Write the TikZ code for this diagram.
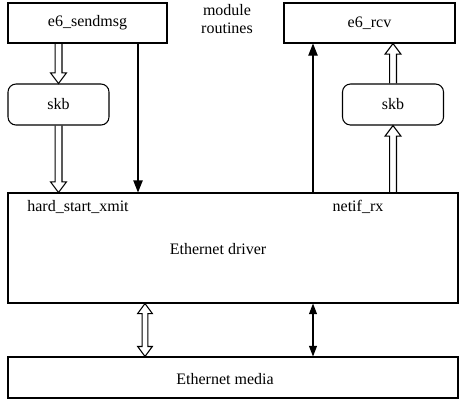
\documentclass[tikz,border=0pt]{standalone}
\usepackage{fontspec}
\setmainfont{Liberation Serif}
\usetikzlibrary{arrows.meta,calc}

\tikzset{
  box/.style={draw, line width=0.8pt, inner sep=0pt, minimum width=#1},
  skbbox/.style={box=75.75pt, minimum height=30.75pt, rounded corners=6pt},
  tipline/.style={line width=0.8pt, -{Triangle[width=7pt,length=9pt]}},
  tipboth/.style={line width=0.8pt, {Triangle[width=6pt,length=8pt]}-{Triangle[width=6pt,length=8pt]}},
  hollow/.style={line width=0.8pt, to path={
    let \p1=(\tikztostart), \p2=(\tikztotarget), \n1={sign(\y2-\y1)} in
    ({\x1-2.6pt},\y1) -- ({\x1-2.6pt},{\y2-(\n1)*8pt}) -- ({\x1-6pt},{\y2-(\n1)*8pt}) -- (\x2,\y2)
    -- ({\x1+6pt},{\y2-(\n1)*8pt}) -- ({\x1+2.6pt},{\y2-(\n1)*8pt}) -- ({\x1+2.6pt},\y1)}},
  hollowboth/.style={line width=0.8pt, to path={
    let \p1=(\tikztostart), \p2=(\tikztotarget), \n1={sign(\y2-\y1)} in
    (\x1,\y1) -- ({\x1+5.5pt},{\y1+(\n1)*7.5pt}) -- ({\x1+2.2pt},{\y1+(\n1)*7.5pt})
    -- ({\x1+2.2pt},{\y2-(\n1)*7.5pt}) -- ({\x1+5.5pt},{\y2-(\n1)*7.5pt}) -- (\x2,\y2)
    -- ({\x1-5.5pt},{\y2-(\n1)*7.5pt}) -- ({\x1-2.2pt},{\y2-(\n1)*7.5pt})
    -- ({\x1-2.2pt},{\y1+(\n1)*7.5pt}) -- ({\x1-5.5pt},{\y1+(\n1)*7.5pt}) -- cycle}}
}

\begin{document}
\begin{tikzpicture}[x=0.75pt, y=-0.75pt, font=\fontsize{12}{13.5}\selectfont]
\useasboundingbox (0,0) rectangle (463,405);     %画布大小
\node[box=119.25pt, minimum height=30pt] (send) at (87.5,23) {e6\_sendmsg};     %发送例程
\node[box=128.25pt, minimum height=30pt] (rcv) at (369.5,23) {e6\_rcv};     %接收例程
\node[align=center] (mod) at (227,19) {module\\routines};
\node[skbbox] (skbL) at (58.5,104.5) {skb};
\node[skbbox] (skbR) at (393,104.5) {skb};
\node[box=337.5pt, minimum height=82.5pt] (drv) at (233,248) {};     %驱动
\node (hard) at (78,207) {hard\_start\_xmit};
\node (netif) at (358,207) {netif\_rx};
\node (drvtxt) at (218,249) {Ethernet driver};
\node[box=337.5pt, minimum height=30.75pt] (media) at (233,377.5) {};     %介质
\node (mediatxt) at (225,379) {Ethernet media};
\coordinate (tx) at (138,0);
\coordinate (rx) at (313,0);
\coordinate (lx) at (145,0);
\draw[tipline] (send.south -| tx) -- (drv.north -| tx);     %细箭头
\draw[tipline] (drv.north -| rx) -- (rcv.south -| rx);
\draw[tipboth] (drv.south -| rx) -- (media.north -| rx);
\draw[hollow] (skbL.north |- send.south) to (skbL.north);     %空心箭头
\draw[hollow] (skbL.south) to (drv.north -| skbL.south);
\draw[hollow] (skbR.north) to (rcv.south -| skbR.north);
\draw[hollow] (drv.north -| skbR.south) to (skbR.south);
\draw[hollowboth] (drv.south -| lx) to (media.north -| lx);
\end{tikzpicture}
\end{document}
